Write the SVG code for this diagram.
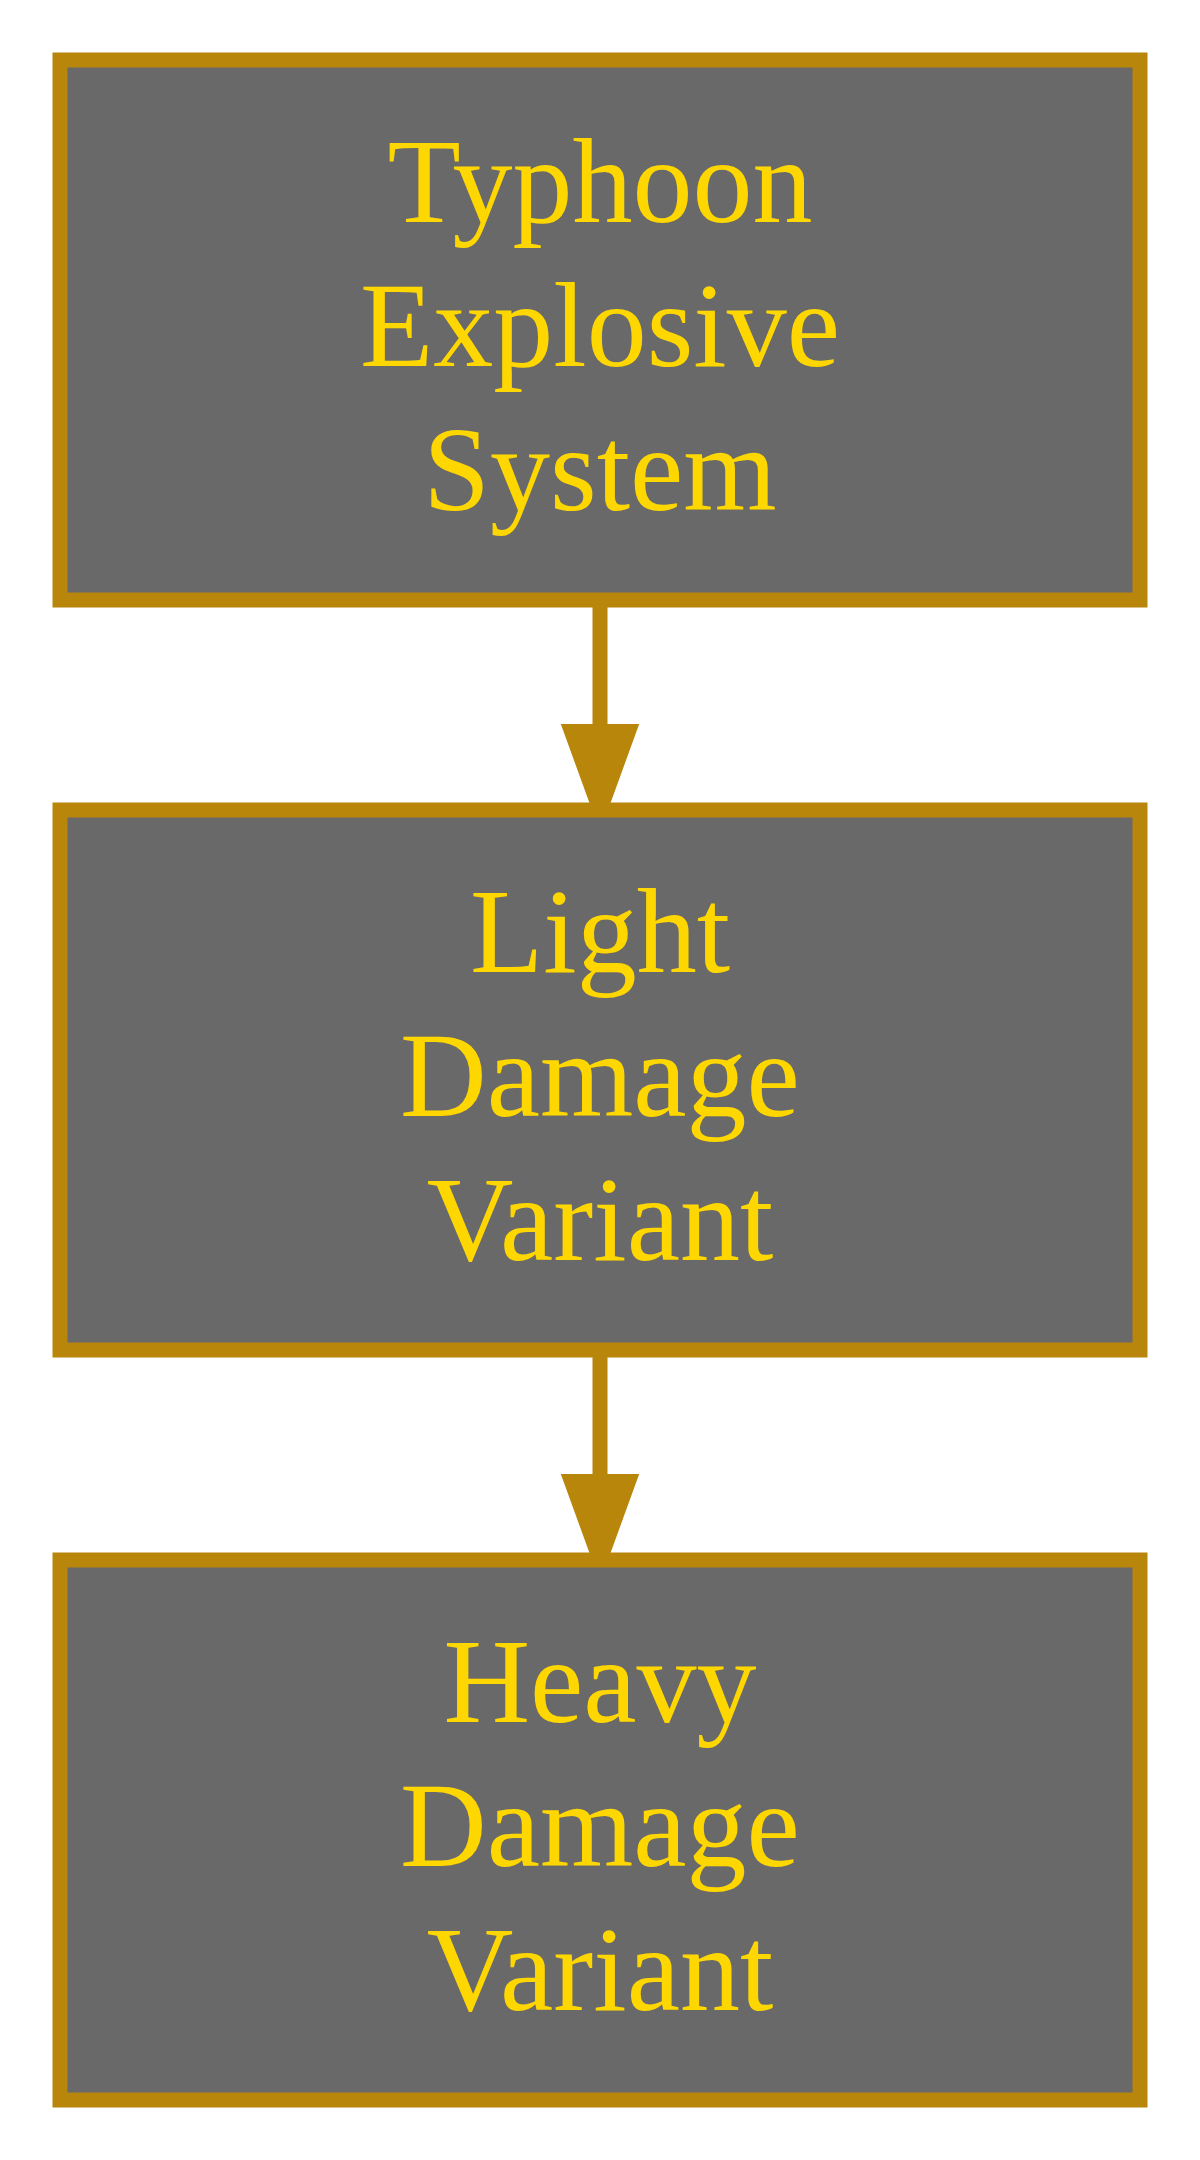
<svg xmlns="http://www.w3.org/2000/svg" width="1200" height="2160" viewBox="0 0 1200 2160">
<style>
.box{fill:#696969;stroke:#b8860b;stroke-width:15}
.lbl{fill:#ffd700;font-family:"Liberation Serif","Times New Roman",serif;font-size:120px;text-anchor:middle}
.edge{fill:none;stroke:#b8860b;stroke-width:15}
.head{fill:#b8860b;stroke:#b8860b;stroke-width:15}
</style>
<rect width="1200" height="2160" fill="#ffffff"/>
<g id="connectors">
<path class="edge" d="M600,600 L600,731.5"/>
<polygon class="head" points="571.5,731.5 628.5,731.5 600,810"/>
<path class="edge" d="M600,1350 L600,1481.5"/>
<polygon class="head" points="571.5,1481.5 628.5,1481.5 600,1560"/>
</g>
<g id="node-typhoon">
<rect class="box" x="60" y="60" width="1080" height="540"/>
<text class="lbl" x="600" y="222">Typhoon</text>
<text class="lbl" x="600" y="366">Explosive</text>
<text class="lbl" x="600" y="510">System</text>
</g>
<g id="node-light">
<rect class="box" x="60" y="810" width="1080" height="540"/>
<text class="lbl" x="600" y="972">Light</text>
<text class="lbl" x="600" y="1116">Damage</text>
<text class="lbl" x="600" y="1260">Variant</text>
</g>
<g id="node-heavy">
<rect class="box" x="60" y="1560" width="1080" height="540"/>
<text class="lbl" x="600" y="1722">Heavy</text>
<text class="lbl" x="600" y="1866">Damage</text>
<text class="lbl" x="600" y="2010">Variant</text>
</g>
</svg>
